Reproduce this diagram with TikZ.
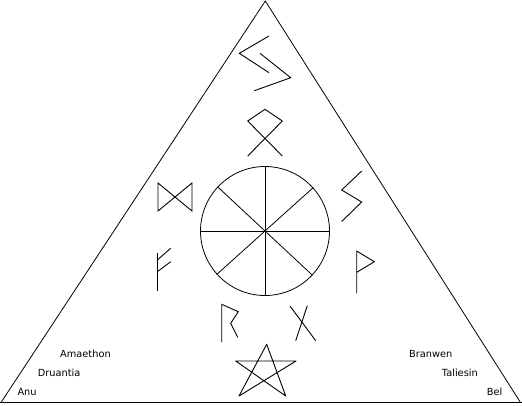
\documentclass[tikz,border=0pt]{standalone}
\usepackage{fontspec}
\setmainfont{DejaVu Sans}
\usetikzlibrary{positioning}

\begin{document}
\begin{tikzpicture}[x=1pt, y=-1pt,
    rune/.style={line width=0.9pt, line join=miter},
    god/.style={anchor=base west, inner sep=0pt, font=\fontsize{9.8}{12}\selectfont},
  ]
    \useasboundingbox (0,0) rectangle (522,405);

    % outer triangle and ground line
    \coordinate (apex) at (265.3,1);
    \coordinate (west) at (1,402.5);
    \coordinate (east) at (520.5,402.5);
    \draw[line width=0.8pt] (west) -- (apex) -- (east);
    \draw[line width=0.8pt] (0,402.5) -- (522,402.5);

    % wheel of the year
    \node[circle, draw, line width=0.8pt, minimum size=129pt, inner sep=0pt] (wheel) at (265,231) {};
    \foreach \a in {0,90} {
      \draw[line width=0.8pt] (wheel.\a) -- (wheel.\a+180);
    }
    \foreach \a in {42.5,137.5} {
      \draw[line width=0.8pt] (wheel.\a) -- (wheel.\a+180);
    }

    % runes, top
    \draw[rune] (269,36) -- (239.3,53.3) -- (269,72.7);
    \draw[rune] (260,53.3) -- (290.7,77.7) -- (254.3,90.7);
    \draw[rune] (247.7,156) -- (282.3,121) -- (265,109.3) -- (247.7,121) -- (282.3,156);

    % runes, left
    \draw[rune] (158,183) -- (158,211) -- (192,183) -- (192,211) -- cycle;
    \draw[rune] (157.3,253.3) -- (157.3,291);
    \draw[rune] (157.3,260) -- (170.7,248.3);
    \draw[rune] (157.3,271.7) -- (170.7,261.7);

    % runes, right
    \draw[rune] (361.7,171) -- (341.7,190) -- (361.7,202) -- (341.7,221.5);
    \draw[rune] (356.7,293.3) -- (356.7,251) -- (374.3,261.7) -- (356.7,272.3);

    % runes, bottom
    \draw[rune] (221.7,342.3) -- (221.7,304.3) -- (238.3,311.7) -- (230.7,323.3) -- (237.7,337.3);
    \draw[rune] (307.3,305.7) -- (295.7,340.7);
    \draw[rune] (290,306) -- (315.7,340.7);

    % pentagram
    \draw[rune, line join=round] (266.7,344.3) -- (285.7,396) -- (235.7,361) -- (296,361) -- (239,396) -- cycle;

    % names
    \node[god] (amaethon) at (60,357.7) {Amaethon};
    \node[god] (druantia) at (37.7,376) {Druantia};
    \node[god] (anu) at (17.3,395) {Anu};
    \node[god] (branwen) at (409,357.7) {Branwen};
    \node[god] (taliesin) at (441.7,376) {Taliesin};
    \node[god] (bel) at (486.7,395) {Bel};
  \end{tikzpicture}
\end{document}
